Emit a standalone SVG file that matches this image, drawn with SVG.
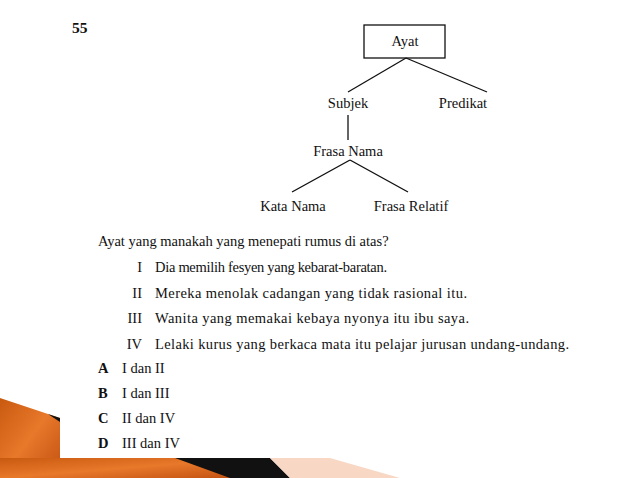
<svg xmlns="http://www.w3.org/2000/svg" width="638" height="478" viewBox="0 0 638 478">
<style>
text{font-family:"Liberation Serif",serif;font-size:14.5px;fill:#111}
.b{font-weight:bold}
.c{text-anchor:middle}
.r{text-anchor:end}
line,rect.n{stroke:#111;stroke-width:1.3;fill:none}
</style>
<defs><linearGradient id="o" x1="0" y1="0" x2="1" y2="1"><stop offset="0" stop-color="#c85a10"/><stop offset="0.5" stop-color="#e8782a"/><stop offset="1" stop-color="#c05010"/></linearGradient></defs>
<rect width="638" height="478" fill="#fff"/>
<polygon points="0,398 60,418 60,478 0,478" fill="url(#o)"/>
<polygon points="0,458 235,458 250,478 0,478" fill="url(#o)"/>
<polygon points="175,458 270,458 290,478 230,478" fill="#111"/>
<polygon points="270,458 330,458 400,478 290,478" fill="#f8d8c4"/>
<polygon points="48,414 60,418 60,422" fill="#111"/>
<text x="72" y="33" class="b" style="font-size:15.5px">55</text>
<g id="connectors">
<line x1="406" y1="58" x2="348" y2="92"/>
<line x1="406" y1="58" x2="487" y2="92"/>
<line x1="348" y1="115" x2="348" y2="140"/>
<line x1="350" y1="160" x2="292" y2="192"/>
<line x1="350" y1="160" x2="408" y2="192"/>
</g>
<g id="ayat"><rect class="n" x="364" y="25" width="81" height="33"/><text x="405" y="46" class="c">Ayat</text></g>
<g id="subjek"><text x="348" y="108" class="c">Subjek</text></g>
<g id="predikat"><text x="463" y="108" class="c">Predikat</text></g>
<g id="frasanama"><text x="348" y="156" class="c">Frasa Nama</text></g>
<g id="katanama"><text x="293" y="211" class="c">Kata Nama</text></g>
<g id="frasarelatif"><text x="411" y="211" class="c">Frasa Relatif</text></g>
<text x="98" y="246">Ayat yang manakah yang menepati rumus di atas?</text>
<text x="142" y="272" class="r">I</text><text x="155" y="272" textLength="232" lengthAdjust="spacing">Dia memilih fesyen yang kebarat-baratan.</text>
<text x="142" y="298" class="r">II</text><text x="155" y="298" textLength="312" lengthAdjust="spacing">Mereka menolak cadangan yang tidak rasional itu.</text>
<text x="142" y="323" class="r">III</text><text x="155" y="323" textLength="314" lengthAdjust="spacing">Wanita yang memakai kebaya nyonya itu ibu saya.</text>
<text x="142" y="349" class="r">IV</text><text x="155" y="349" textLength="414" lengthAdjust="spacing">Lelaki kurus yang berkaca mata itu pelajar jurusan undang-undang.</text>
<text x="98" y="373" class="b">A</text><text x="122" y="373">I dan II</text>
<text x="98" y="398" class="b">B</text><text x="122" y="398">I dan III</text>
<text x="98" y="423" class="b">C</text><text x="122" y="423">II dan IV</text>
<text x="98" y="448" class="b">D</text><text x="122" y="448">III dan IV</text>
</svg>
